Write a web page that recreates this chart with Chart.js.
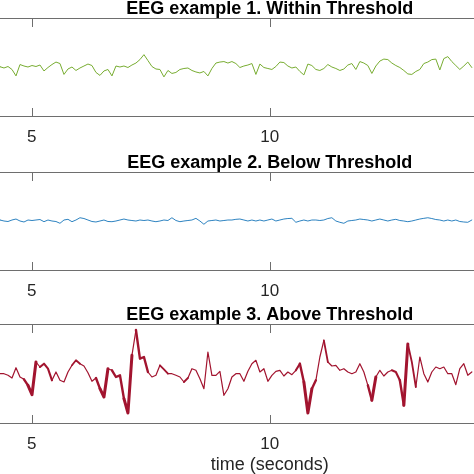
<!DOCTYPE html>
<html lang="en">
<head>
    <meta charset="UTF-8">
    <title>EEG examples</title>
    <style>
        body {
            margin: 0;
            background-color: #FFFFFF;
            overflow: hidden;
        }
        .panel {
            position: absolute;
            left: 0;
            width: 474px;
        }
    </style>
</head>
<body>
    <div class="panel" style="top:0px;height:147px"><canvas id="eeg1"></canvas></div>
    <div class="panel" style="top:154px;height:147px"><canvas id="eeg2"></canvas></div>
    <div class="panel" style="top:306px;height:168px"><canvas id="eeg3"></canvas></div>

    <script src="https://cdn.jsdelivr.net/npm/chart.js"></script>
    <script>
        // visible time window (seconds) and sampling of the traces
        const T_START = 4.334;
        const T_END = 14.292;
        const SAMPLE_DT = 0.084;
        const TICK_VALUES = [5, 10];
        const AXIS_CENTER = 10;   // titles / x label are centred on t = 10 s

        const titles = [
            'EEG example 1. Within Threshold',
            'EEG example 2. Below Threshold',
            'EEG example 3. Above Threshold'
        ];
        const xLabel = 'time (seconds)';

        // amplitude (uV), one value per sample
        const eeg1 = [
            0.8, -0.5, 1.0, -2.0, -8.5, 3.0, 1.5, 0.5, 2.0, 1.0,
            2.5, -3.5, 0.0, 3.0, 5.5, 4.0, -7.0, -1.5, 0.5, -3.0,
            -0.5, 1.5, 3.5, 2.0, -5.0, -8.0, -3.5, -2.0, -8.5, 1.5,
            0.5, 1.5, 0.0, 2.5, 4.5, 8.0, 13.0, 7.0, 1.0, -1.5,
            -2.0, -9.5, -3.0, -6.0, -5.0, -2.0, -1.0, -0.5, -3.0, -4.5,
            -5.5, -4.0, -8.5, -1.0, 4.5, 5.5, 6.0, 4.5, 6.0, 4.0,
            0.0, 1.5, 2.5, 4.0, -7.0, 3.5, 0.0, -1.0, -2.0, 1.0,
            5.5, 5.0, 1.5, -0.5, 0.5, -4.0, -7.5, 3.5, 2.0, -2.0,
            -3.0, -1.0, 3.0, 0.5, -1.0, -3.0, -1.5, 2.5, 4.0, -2.0,
            6.0, 4.5, 2.0, -6.0, 1.5, 6.5, 8.5, 8.0, 4.5, 2.0,
            0.0, -3.0, -6.5, -7.0, -4.0, -2.0, 4.0, 5.5, 8.0, 8.5,
            -2.5, 9.0, 11.0, 6.0, 2.0, -2.0, 1.5, 5.5, 0.0
        ];
        const eeg2 = [
            1.5, 0.5, 0.0, 1.5, 2.5, 0.5, -0.5, 1.5, 1.0, 1.5,
            2.0, -0.2, 1.5, 0.5, 0.0, -1.8, 1.5, 2.2, -0.2, 1.5,
            3.8, 3.0, 1.5, 0.0, -0.5, 0.5, 1.5, 0.0, -0.2, 0.5,
            1.5, 2.5, 1.5, 1.0, 0.5, 1.5, 1.0, 1.5, 0.5, -0.2,
            0.5, 1.5, 1.0, 3.8, 1.0, -0.2, 0.5, 1.0, 1.5, 3.2,
            0.5, -2.8, 0.5, 1.0, 1.5, 0.5, 1.0, 1.5, 1.5, 2.2,
            2.5, 1.5, 0.5, 1.5, 0.5, 1.5, 0.5, 1.5, 2.5, 0.5,
            1.5, 2.5, 3.0, 3.2, -0.8, 0.5, 1.5, 0.5, 1.5, 1.5,
            1.0, 1.5, 3.0, 3.8, 0.5, -0.8, -1.8, 0.5, 1.0, 1.5,
            2.5, 2.0, 1.5, 0.5, 1.5, 2.5, 1.5, 0.5, 1.5, 2.2,
            1.0, 0.5, -0.2, 0.5, 1.5, 2.5, 3.2, 3.8, 3.0, 2.0,
            1.5, 0.5, 1.5, 0.5, 1.5, 0.0, -0.5, -0.8, 1.5
        ];
        const eeg3 = [
            0.3, 0.3, -1.3, -4.0, 6.3, -3.0, -5.3, -11.3, -20.7, 12.0,
            7.0, 10.3, 5.3, -6.3, 2.0, -6.3, -8.0, 2.0, 8.7, 13.7,
            10.3, 8.0, 1.3, -7.3, -4.0, -14.7, -23.0, 5.3, 3.7, -3.0,
            -1.3, -24.7, -39.0, 18.7, 44.0, 15.3, 17.0, 2.0, -3.0, -1.3,
            8.7, 4.7, 0.3, 0.3, -1.3, -3.0, -8.0, -4.0, 5.3, 3.7,
            -4.7, -14.7, 22.0, -1.3, -1.3, 2.7, -21.3, -14.7, -3.0, 0.3,
            0.3, -7.3, 2.7, 10.3, 13.7, 2.0, 5.3, -7.3, -1.3, 2.7,
            3.7, -2.0, 2.0, -0.7, 3.7, 10.3, -8.0, -39.0, -14.7, -6.3,
            17.0, 33.7, 12.0, 8.0, 8.7, 3.7, 5.3, 2.0, 0.3, 2.0,
            10.3, 2.0, -11.3, -26.3, -3.0, 3.7, -2.0, 2.0, 3.7, 2.0,
            -6.3, -31.3, 30.0, 12.0, -13.0, 17.0, 0.3, -8.0, 2.0, 7.0,
            5.3, 7.0, 0.3, 0.3, -10.7, 5.3, 10.3, -1.3, 2.0
        ];
        // amplitude of the fast ripple riding on example 3 (uV), per sample
        const eeg3Ripple = [
            0, 0, 0, 0, 0, 0, 2, 3, 3, 0,
            1.5, 1.5, 1.5, 0, 0, 0, 0, 0, 1, 1,
            0, 0, 0, 0, 2, 3, 3, 0, 2, 2,
            2, 3, 3, 0, 2, 2, 2, 0, 0, 0,
            1, 1, 0, 0, 0, 0, 1, 0, 0, 0,
            0, 0, 0, 0, 0, 0, 0, 0, 0, 0,
            0, 0, 0, 0, 0, 0, 0, 0, 0, 0,
            0, 0, 0, 0, 1.5, 2, 3, 3, 2, 0,
            0, 1, 0, 0, 0, 0, 0, 0, 0, 0,
            0, 0, 2, 3, 0, 0, 0, 0, 1.5, 1.5,
            2, 3, 1, 1, 0, 0, 0, 0, 0, 0,
            0, 0, 0, 0, 0, 0, 0, 0, 0
        ];

        const series = [eeg1, eeg2, eeg3];
        const ripple = [null, null, eeg3Ripple];
        const colors = ['#77AC30', '#2C82C0', '#A2142F'];

        // box, ticks and centred texts in the MATLAB style
        const framePlugin = {
            id: 'frame',
            afterDraw(chart, args, opts) {
                const ctx = chart.ctx;
                const a = chart.chartArea;
                const xs = chart.scales.x;
                ctx.save();
                ctx.strokeStyle = '#6E6E6E';
                ctx.lineWidth = 1;
                ctx.beginPath();
                ctx.moveTo(a.left, a.top + 0.5);
                ctx.lineTo(a.right, a.top + 0.5);
                ctx.moveTo(a.left, a.bottom - 0.5);
                ctx.lineTo(a.right, a.bottom - 0.5);
                TICK_VALUES.forEach(v => {
                    const x = Math.round(xs.getPixelForValue(v)) + 0.5;
                    ctx.moveTo(x, a.top);
                    ctx.lineTo(x, a.top + 9);
                    ctx.moveTo(x, a.bottom);
                    ctx.lineTo(x, a.bottom - 9);
                });
                ctx.stroke();

                const cx = xs.getPixelForValue(AXIS_CENTER);
                ctx.fillStyle = '#000000';
                ctx.textAlign = 'center';
                ctx.textBaseline = 'alphabetic';
                ctx.font = 'bold 18px Arial, "Liberation Sans", sans-serif';
                ctx.fillText(opts.title, cx, a.top - 4.5);
                if (opts.xlabel) {
                    ctx.fillStyle = '#262626';
                    ctx.font = '18px Arial, "Liberation Sans", sans-serif';
                    ctx.fillText(opts.xlabel, cx, a.bottom + 46);
                }
                ctx.restore();
            }
        };

        function makeChart(id, k) {
            const values = series[k];
            const rip = ripple[k];
            const points = values.map((v, i) => ({ x: T_START + i * SAMPLE_DT, y: v }));
            const axisHeight = k === 2 ? 50 : 30;
            return new Chart(document.getElementById(id), {
                type: 'line',
                data: {
                    datasets: [{
                        data: points,
                        borderColor: colors[k],
                        borderWidth: 1,
                        borderJoinStyle: 'round',
                        borderCapStyle: 'round',
                        pointRadius: 0,
                        tension: 0,
                        fill: false,
                        segment: {
                            borderWidth: ctx => rip ? 1.2 + 0.6 * rip[ctx.p0DataIndex] : 1
                        }
                    }]
                },
                options: {
                    responsive: true,
                    maintainAspectRatio: false,
                    animation: false,
                    layout: { padding: { top: 18, left: 0, right: 0, bottom: 0 } },
                    scales: {
                        x: {
                            type: 'linear',
                            min: T_START,
                            max: T_END,
                            grid: { display: false, drawTicks: false },
                            border: { display: false },
                            afterBuildTicks: scale => {
                                scale.ticks = TICK_VALUES.map(v => ({ value: v }));
                            },
                            afterFit: scale => { scale.height = axisHeight; },
                            ticks: {
                                color: '#262626',
                                padding: 10,
                                maxRotation: 0,
                                font: { family: 'Arial, "Liberation Sans", sans-serif', size: 17 }
                            }
                        },
                        y: {
                            display: false,
                            min: -50,
                            max: 50
                        }
                    },
                    plugins: {
                        legend: { display: false },
                        tooltip: { enabled: false },
                        frame: { title: titles[k], xlabel: k === 2 ? xLabel : null }
                    }
                },
                plugins: [framePlugin]
            });
        }

        makeChart('eeg1', 0);
        makeChart('eeg2', 1);
        makeChart('eeg3', 2);
    </script>
</body>
</html>
